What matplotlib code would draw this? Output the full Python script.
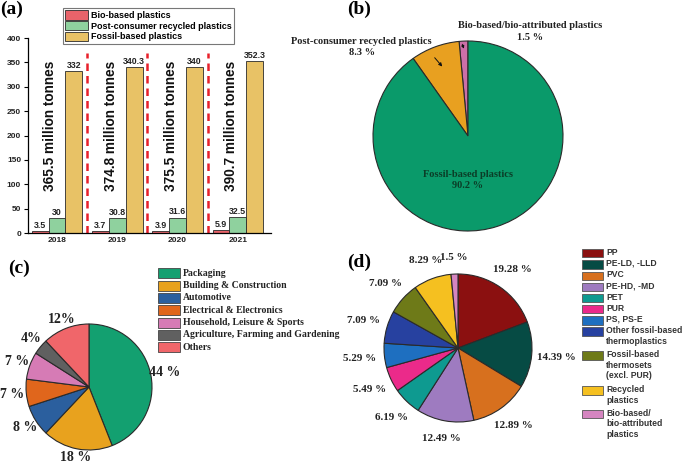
import matplotlib
matplotlib.use('Agg')
import matplotlib.pyplot as plt
import numpy as np
from matplotlib.patches import Rectangle

# ---------------- data ----------------
years = ['2018', '2019', '2020', '2021']
bio = [3.5, 3.7, 3.9, 5.9]
recycled = [30, 30.8, 31.6, 32.5]
fossil = [332, 340.3, 340, 352.3]
totals = [365.5, 374.8, 375.5, 390.7]
series_a = ['Bio-based plastics', 'Post-consumer recycled plastics', 'Fossil-based plastics']

b_labels = ['Bio-based/bio-attributed plastics', 'Post-consumer recycled plastics', 'Fossil-based plastics']
b_values = [1.5, 8.3, 90.2]

c_labels = ['Packaging', 'Building & Construction', 'Automotive', 'Electrical & Electronics',
            'Household, Leisure & Sports', 'Agriculture, Farming and Gardening', 'Others']
c_values = [44, 18, 8, 7, 7, 4, 12]
c_texts = ['44 %', '18 %', '8 %', '7 %', '7 %', '4%', '12%']

d_labels = ['PP', 'PE-LD, -LLD', 'PVC', 'PE-HD, -MD', 'PET', 'PUR', 'PS, PS-E',
            'Other fossil-based\nthermoplastics', 'Fossil-based\nthermosets\n(excl. PUR)',
            'Recycled\nplastics', 'Bio-based/\nbio-attributed\nplastics']
d_values = [19.28, 14.39, 12.89, 12.49, 6.19, 5.49, 5.29, 7.09, 7.09, 8.29, 1.5]

# ---------------- styles ----------------
cols_a = ['#E8636A', '#8FD19E', '#E8C266']
cols_b = ['#CC6FA8', '#E8A020', '#0A9A6A']
cols_c = ['#13A070', '#E8A21E', '#2B5F9E', '#E0661C', '#D67BB5', '#606060', '#F0666A']
cols_d = ['#8B1010', '#064B44', '#D7701E', '#9E7BC0', '#0E9A90', '#EB2A8A', '#1E6FC0',
          '#2741A0', '#6E7A18', '#F5C020', '#D585C0']

SERIF = 'Liberation Serif'
SANS = 'Liberation Sans'
EDGE = '#2a2a2a'

W, H = 685, 465
fig = plt.figure(figsize=(W / 100, H / 100), dpi=100)


def box(l, t, r, b):
    return [l / W, 1 - b / H, (r - l) / W, (b - t) / H]


def ftext(x, y, s, **kw):
    fig.text(x / W, 1 - y / H, s, **kw)


# ---------------- panel (a) ----------------
ax = fig.add_axes(box(28, 38, 271, 233))
x = np.arange(len(years))
bw = 0.28
ser = [bio, recycled, fossil]
for i, (vals, col, lab) in enumerate(zip(ser, cols_a, series_a)):
    xs = x + (i - 1) * bw
    ax.bar(xs, vals, width=bw, color=col, edgecolor=EDGE, linewidth=0.6, label=lab)
    for xx, v in zip(xs, vals):
        ax.text(xx, v + 3, f'{v:g}', ha='center', va='bottom', fontsize=6.3,
                fontweight='bold', family=SANS, color='#222222')
for xx, t in zip(x, totals):
    ax.text(xx - 0.11, 220, f'{t} million tonnes', rotation=90, ha='center', va='center',
            fontsize=9.8, fontweight='bold', family=SANS, color='#111111')
for xx in x[:-1] + 0.5:
    ax.plot([xx, xx], [0, 370], color='#E8202A', linestyle=(0, (3, 2)), linewidth=1.8)
ax.set_xlim(-0.48, 3.55)
ax.set_ylim(0, 400)
ax.set_yticks(np.arange(0, 401, 50))
ax.set_xticks(x)
ax.set_xticklabels(years)
for lab in ax.get_xticklabels() + ax.get_yticklabels():
    lab.set_fontsize(6)
    lab.set_fontweight('bold')
    lab.set_family(SANS)
    lab.set_color('#222222')
ax.tick_params(axis='x', length=0, pad=3)
ax.tick_params(axis='y', length=3, width=0.8, pad=2)
for s in ['top', 'right']:
    ax.spines[s].set_visible(False)
for s in ['left', 'bottom']:
    ax.spines[s].set_linewidth(0.9)
leg = ax.legend(loc='upper left', bbox_to_anchor=((63 - 28) / 243, (233 - 8) / 195),
                borderaxespad=0, frameon=True, fancybox=False, edgecolor='#555555',
                prop={'family': SANS, 'weight': 'bold', 'size': 6.5},
                handlelength=2.5, handleheight=1.2, labelspacing=0.12, borderpad=0.25,
                handletextpad=0.4)
leg.get_frame().set_linewidth(0.8)

ftext(12, 9, '(a)', fontsize=14, fontweight='bold', family=SERIF, ha='center', va='center')

# ---------------- panel (b) ----------------
axb = fig.add_axes(box(373, 41, 563, 231))
wb, _ = axb.pie(b_values, colors=cols_b, startangle=90, counterclock=True,
                wedgeprops=dict(edgecolor=EDGE, linewidth=0.8))
axb.set_xlim(-1, 1)
axb.set_ylim(-1, 1)
axb.set_aspect('equal')


def mid(w, r):
    a = np.deg2rad((w.theta1 + w.theta2) / 2)
    return r * np.cos(a), r * np.sin(a)


bkw = dict(fontsize=7.5, fontweight='bold', family=SERIF, ha='center', va='center',
           linespacing=1.3)
axb.text(0, -0.46, f'{b_labels[2]}\n{b_values[2]} %', color='#0b3d27', **bkw)
axb.annotate(f'{b_labels[1]}\n{b_values[1]} %', xy=mid(wb[1], 0.78), xytext=(-1.12, 0.94),
             arrowprops=dict(arrowstyle='-|>', color='#111111', lw=0.7, mutation_scale=5,
                             shrinkA=0, shrinkB=0, relpos=(0.95, 0.52)),
             color='#222222', **bkw)
axb.annotate(f'{b_labels[0]}\n{b_values[0]} %', xy=mid(wb[0], 0.92), xytext=(0.65, 1.1),
             arrowprops=dict(arrowstyle='-|>', color='#111111', lw=0.7, mutation_scale=4,
                             shrinkA=0, shrinkB=0, relpos=(0.0, 0.5)), color='#222222', **bkw)
ftext(359, 9, '(b)', fontsize=14, fontweight='bold', family=SERIF, ha='center', va='center')

# ---------------- panel (c) ----------------
axc = fig.add_axes(box(26, 324, 152, 450))
wc, _ = axc.pie(c_values, colors=cols_c, startangle=90, counterclock=False,
                wedgeprops=dict(edgecolor=EDGE, linewidth=0.8))
axc.set_xlim(-1, 1)
axc.set_ylim(-1, 1)
axc.set_aspect('equal')
for w, t in zip(wc, c_texts):
    a = np.deg2rad((w.theta1 + w.theta2) / 2)
    d = 1.12 + 0.1 * abs(np.cos(a))
    axc.text(d * np.cos(a), d * np.sin(a), t, ha='center', va='center', fontsize=10,
             fontweight='bold', family=SERIF, color='#222222')
for i, (lab, col) in enumerate(zip(c_labels, cols_c)):
    yy = 273.3 + i * 12.33
    fig.patches.append(Rectangle((158 / W, 1 - (yy + 5) / H), 22 / W, 10 / H, facecolor=col,
                                 edgecolor='#444444', linewidth=0.6, transform=fig.transFigure))
    ftext(183, yy, lab, fontsize=7, fontweight='bold', family=SERIF, va='center', ha='left',
          color='#222222')
ftext(19, 268, '(c)', fontsize=14, fontweight='bold', family=SERIF, ha='center', va='center')

# ---------------- panel (d) ----------------
axd = fig.add_axes(box(384, 274, 532, 422))
wd, _ = axd.pie(d_values, colors=cols_d, startangle=90, counterclock=False,
                wedgeprops=dict(edgecolor=EDGE, linewidth=0.8))
axd.set_xlim(-1, 1)
axd.set_ylim(-1, 1)
axd.set_aspect('equal')
for w, v in zip(wd, d_values):
    a = np.deg2rad((w.theta1 + w.theta2) / 2)
    d = 1.22 + 0.12 * abs(np.cos(a))
    axd.text(d * np.cos(a), d * np.sin(a), f'{v:g} %', ha='center', va='center', fontsize=8,
             fontweight='bold', family=SERIF, color='#222222')
yy = 253.3
lh = 11.2
for lab, col in zip(d_labels, cols_d):
    n = lab.count('\n') + 1
    fig.patches.append(Rectangle((582 / W, 1 - (yy + 4.2) / H), 21 / W, 8.4 / H, facecolor=col,
                                 edgecolor='#555555', linewidth=0.6, transform=fig.transFigure))
    ftext(606, yy - 5.6, lab, fontsize=6.2, fontweight='bold', family=SANS, va='top',
          ha='left', color='#333333', linespacing=1.25)
    yy += n * lh + (1.4 if n > 1 else 0)
ftext(359, 262, '(d)', fontsize=14, fontweight='bold', family=SERIF, ha='center', va='center')

fig.savefig('out.png', dpi=100)
